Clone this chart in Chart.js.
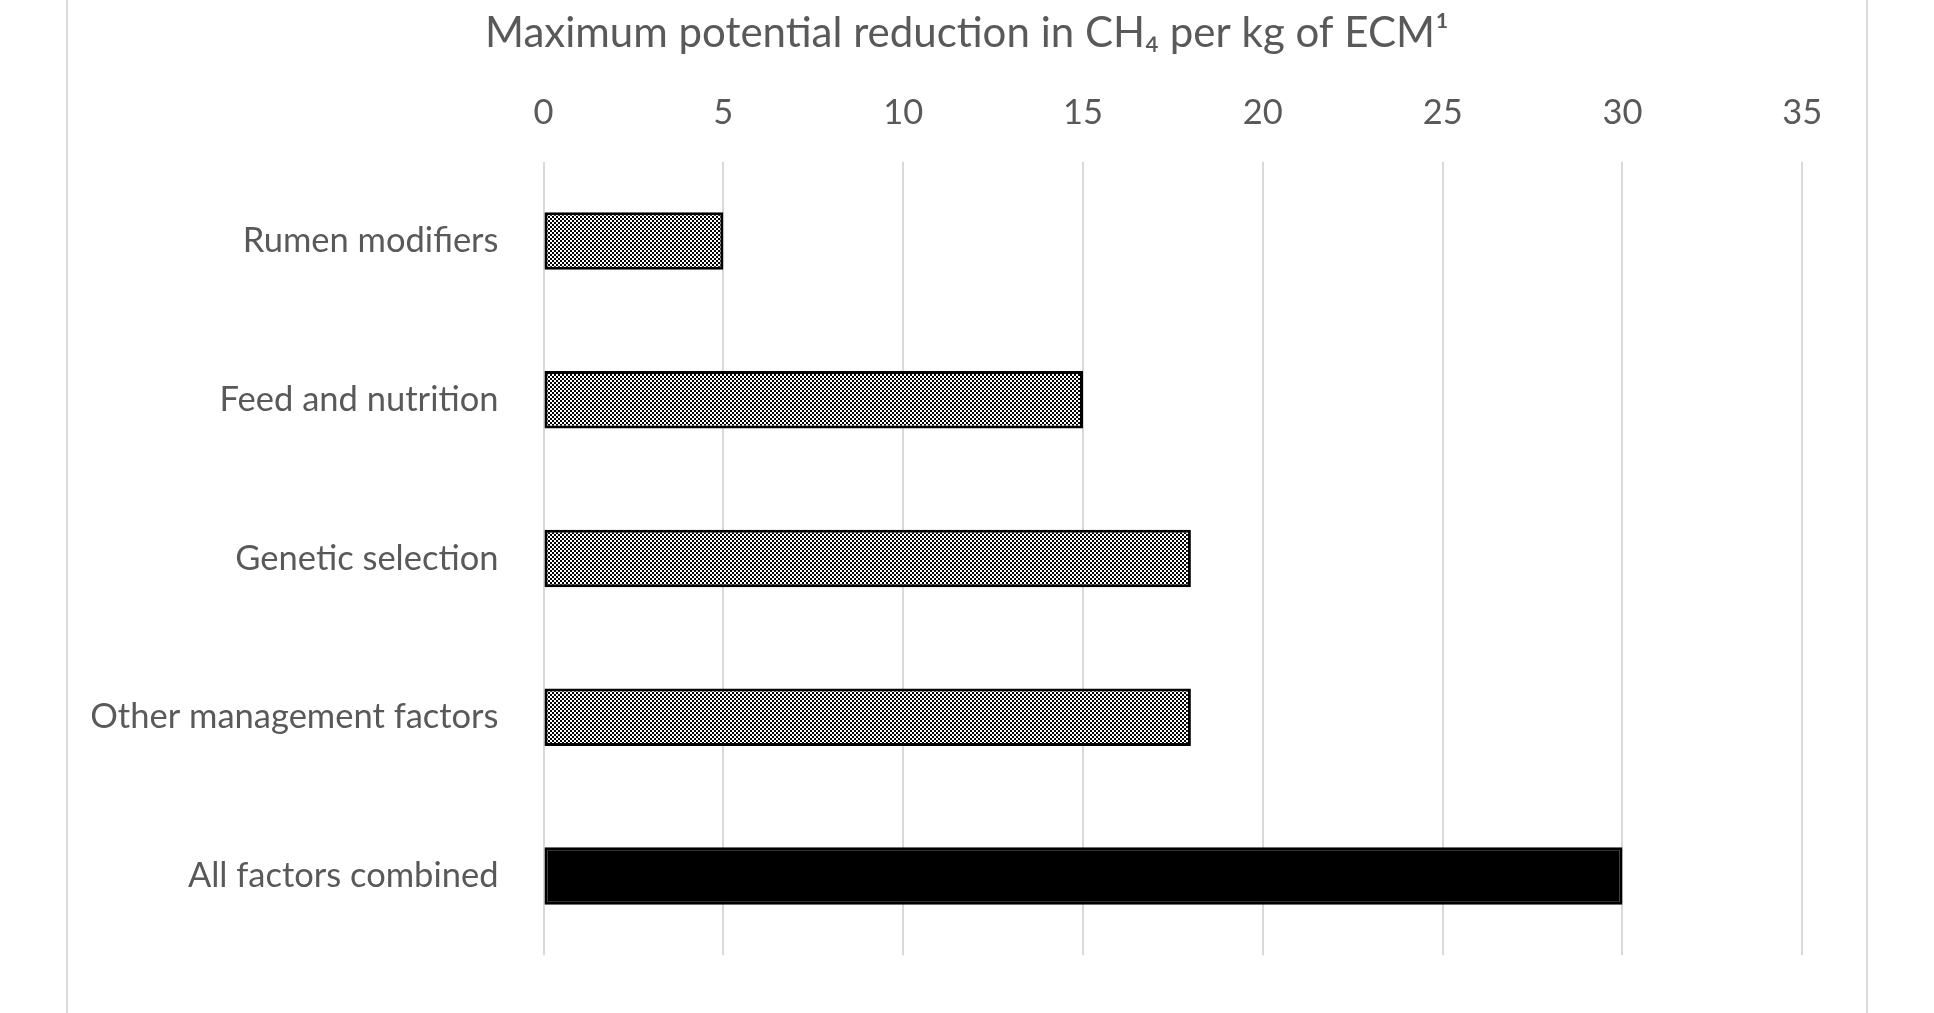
<!DOCTYPE html>
<html><head><meta charset="utf-8">
<script src="https://cdn.jsdelivr.net/npm/chart.js@4.4.0/dist/chart.umd.min.js"></script>
<style>
html,body{margin:0;padding:0;background:#fff;overflow:hidden;}
#wrap{position:relative;width:1934px;height:1013px;}
#frame{position:absolute;left:66px;top:0;width:1802px;height:1013px;border-left:2px solid #d9d9d9;border-right:2px solid #d9d9d9;box-sizing:border-box;}
canvas{position:absolute;left:0;top:0;}
</style></head><body>
<div id="wrap"><div id="frame"></div><canvas id="c" width="1934" height="1013"></canvas></div>
<script>
const categories = ['Rumen modifiers','Feed and nutrition','Genetic selection','Other management factors','All factors combined'];
const values = [5, 15, 18, 18, 30];
const xTicks = [0, 5, 10, 15, 20, 25, 30, 35];
const fillKinds = ['pattern','pattern','pattern','pattern','solid'];
const titleText = 'Maximum potential reduction in CH\u2084 per kg of ECM\u00b9';

const pc = document.createElement('canvas');
pc.width = 4; pc.height = 4;
const px = pc.getContext('2d');
px.fillStyle = '#fff'; px.fillRect(0,0,4,4);
px.fillStyle = '#000'; px.fillRect(0,0,2,2); px.fillRect(2,2,2,2);
const ctx = document.getElementById('c').getContext('2d');
const pattern = ctx.createPattern(pc, 'repeat');

const FONT = "Lato, 'Noto Sans', sans-serif";
const TXT = '#595959';

new Chart(ctx, {
  type: 'bar',
  data: {
    labels: categories,
    datasets: [{
      data: values,
      backgroundColor: fillKinds.map(k => k === 'pattern' ? pattern : '#000'),
      borderColor: '#000',
      borderWidth: 3,
      borderSkipped: false,
      barPercentage: 0.362,
      categoryPercentage: 1
    }]
  },
  options: {
    indexAxis: 'y',
    responsive: false,
    devicePixelRatio: 1,
    animation: false,
    layout: { padding: { left: 67, right: 67, top: 0, bottom: 37 } },
    plugins: {
      legend: { display: false },
      tooltip: { enabled: false },
      title: {
        display: true,
        text: titleText,
        color: TXT,
        font: { family: FONT, size: 42, weight: 'normal', lineHeight: 1.2 },
        padding: { top: 8.5, bottom: 0 }
      }
    },
    scales: {
      x: {
        position: 'top',
        min: 0, max: 35,
        afterBuildTicks: s => { s.ticks = xTicks.map(v => ({ value: v })); },
        afterFit: s => { s.height = 102.8; },
        grid: { color: '#d9d9d9', lineWidth: 2, drawTicks: false },
        border: { display: false },
        ticks: { color: TXT, font: { family: FONT, size: 34.5 }, padding: 28, maxRotation: 0 }
      },
      y: {
        position: 'left',
        afterFit: s => { s.width = 476.5; },
        grid: { display: false },
        border: { display: false },
        ticks: { color: TXT, font: { family: FONT, size: 34.5 }, padding: 37 }
      },
      y2: {
        type: 'category',
        position: 'right',
        afterFit: s => { s.width = 64.7; },
        grid: { display: false },
        border: { display: false },
        ticks: { display: false }
      }
    }
  }
});
</script>
</body></html>
